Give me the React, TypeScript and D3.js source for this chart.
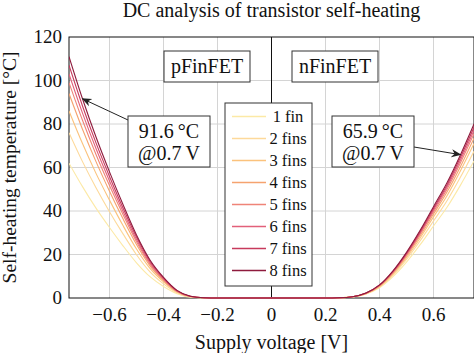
import { useRef, useEffect } from "react";
import * as d3 from "d3";

// supply voltage sweep [V]
const voltages = [
  -0.75, -0.7, -0.65, -0.6, -0.55, -0.5, -0.45, -0.4, -0.35, -0.3, -0.25,
  -0.2, -0.15, -0.1, -0.05, 0, 0.05, 0.1, 0.15, 0.2,
  0.25, 0.3, 0.35, 0.4, 0.45, 0.5, 0.55, 0.6, 0.65, 0.7, 0.75,
];

const finLabels = ["1 fin", "2 fins", "3 fins", "4 fins", "5 fins", "6 fins", "7 fins", "8 fins"];
const finColors = ["#fce9a6", "#fdd99a", "#fbc27c", "#f5a36f", "#ef8478", "#e2607a", "#c73a5c", "#8e1b3d"];

// self-heating temperature [°C] per fin count
const fin1 = [62, 51.2, 41.3, 32.4, 24, 16.2, 9.8, 5.3, 2, 0.4, 0.1, 0, 0, 0, 0, 0, 0, 0, 0, 0, 0.1, 0.5, 1.8, 4.7, 9.8, 16.5, 24.4, 33.1, 41.7, 51.9, 63];
const fin2 = [76, 62.7, 50.7, 39.7, 29.5, 19.9, 12, 6.5, 2.4, 0.5, 0.1, 0, 0, 0, 0, 0, 0, 0, 0, 0, 0.1, 0.5, 1.9, 5.1, 10.5, 17.7, 26.2, 35.4, 44.7, 55.6, 67.5];
const fin3 = [86, 71, 57.3, 45, 33.3, 22.5, 13.6, 7.4, 2.7, 0.6, 0.1, 0, 0, 0, 0, 0, 0, 0, 0, 0, 0.1, 0.5, 2, 5.3, 11.1, 18.6, 27.5, 37.3, 47, 58.5, 71];
const fin4 = [94, 77.6, 62.7, 49.1, 36.4, 24.6, 14.8, 8, 3, 0.7, 0.1, 0, 0, 0, 0, 0, 0, 0, 0, 0, 0.1, 0.6, 2.1, 5.5, 11.5, 19.3, 28.5, 38.6, 48.7, 60.5, 73.5];
const fin5 = [99, 81.7, 66, 51.7, 38.4, 25.9, 15.6, 8.5, 3.1, 0.7, 0.1, 0, 0, 0, 0, 0, 0, 0, 0, 0, 0.1, 0.6, 2.2, 5.7, 11.8, 19.8, 29.3, 39.6, 50, 62.2, 75.5];
const fin6 = [103, 85, 68.7, 53.8, 39.9, 26.9, 16.2, 8.8, 3.2, 0.7, 0.1, 0, 0, 0, 0, 0, 0, 0, 0, 0, 0.1, 0.6, 2.2, 5.8, 12, 20.2, 29.8, 40.4, 51, 63.4, 77];
const fin7 = [107, 88.3, 71.3, 55.9, 41.4, 28, 16.9, 9.2, 3.4, 0.8, 0.1, 0, 0, 0, 0, 0, 0, 0, 0, 0, 0.1, 0.6, 2.3, 5.9, 12.3, 20.6, 30.4, 41.2, 52, 64.7, 78.5];
const fin8 = [111, 91.6, 74, 58, 43, 29, 17.5, 9.5, 3.5, 0.8, 0.1, 0, 0, 0, 0, 0, 0, 0, 0, 0, 0.1, 0.6, 2.3, 6, 12.5, 21, 31, 42, 53, 65.9, 80];
const series = [fin1, fin2, fin3, fin4, fin5, fin6, fin7, fin8];

const xTicks = [-0.6, -0.4, -0.2, 0, 0.2, 0.4, 0.6];
const yTicks = [0, 20, 40, 60, 80, 100, 120];

// 8-fin peak markers
const pPeak = { v: -0.7, t: 91.6 };
const nPeak = { v: 0.7, t: 65.9 };

const width = 474;
const height = 353;
const plot = { left: 69, right: 474, top: 37, bottom: 298 };
const font = "Liberation Serif, DejaVu Serif, serif";

export default function App() {
  const ref = useRef<SVGSVGElement>(null);

  useEffect(() => {
    if (!ref.current) return;
    const svg = d3.select(ref.current);
    svg.selectAll("*").remove();

    const x = d3.scaleLinear().domain([-0.75, 0.75]).range([plot.left, plot.right]);
    const y = d3.scaleLinear().domain([0, 120]).range([plot.bottom, plot.top]);

    const defs = svg.append("defs");
    defs
      .append("clipPath")
      .attr("id", "plot-clip")
      .append("rect")
      .attr("x", plot.left)
      .attr("y", plot.top - 1)
      .attr("width", plot.right - plot.left)
      .attr("height", plot.bottom - plot.top + 2);

    defs
      .append("marker")
      .attr("id", "arrow")
      .attr("viewBox", "0 0 10 10")
      .attr("refX", 9)
      .attr("refY", 5)
      .attr("markerWidth", 10)
      .attr("markerHeight", 10)
      .attr("markerUnits", "userSpaceOnUse")
      .attr("orient", "auto")
      .append("path")
      .attr("d", "M0,1 L10,5 L0,9 L3,5 Z")
      .attr("fill", "#222");

    const root = svg.append("g").attr("font-family", font).attr("fill", "#111");

    // grid
    const grid = root.append("g").attr("stroke", "#d4d4d4").attr("stroke-width", 1);
    grid
      .selectAll("line.gx")
      .data(xTicks.filter((d) => d !== 0))
      .join("line")
      .attr("x1", (d) => x(d))
      .attr("x2", (d) => x(d))
      .attr("y1", plot.top)
      .attr("y2", plot.bottom);
    grid
      .selectAll("line.gy")
      .data(yTicks.filter((d) => d > 0 && d < 120))
      .join("line")
      .attr("x1", plot.left)
      .attr("x2", plot.right)
      .attr("y1", (d) => y(d))
      .attr("y2", (d) => y(d));

    // divider between pFinFET and nFinFET
    root
      .append("line")
      .attr("x1", x(0))
      .attr("x2", x(0))
      .attr("y1", plot.top)
      .attr("y2", plot.bottom)
      .attr("stroke", "#111")
      .attr("stroke-width", 1);

    // frame
    root
      .append("rect")
      .attr("x", plot.left)
      .attr("y", plot.top)
      .attr("width", plot.right - plot.left)
      .attr("height", plot.bottom - plot.top)
      .attr("fill", "none")
      .attr("stroke", "#111")
      .attr("stroke-width", 1);

    // curves
    const line = d3
      .line<number>()
      .x((_, i) => x(voltages[i]))
      .y((d) => y(d))
      .curve(d3.curveMonotoneX);
    root
      .append("g")
      .attr("clip-path", "url(#plot-clip)")
      .selectAll("path")
      .data(series)
      .join("path")
      .attr("fill", "none")
      .attr("stroke", (_, i) => finColors[i])
      .attr("stroke-width", 1.1)
      .attr("d", line);

    // tick labels
    root
      .append("g")
      .selectAll("text")
      .data(xTicks)
      .join("text")
      .attr("x", (d) => x(d))
      .attr("y", 321)
      .attr("text-anchor", "middle")
      .attr("font-size", 19)
      .text((d) => d3.format("")(d));
    root
      .append("g")
      .selectAll("text")
      .data(yTicks)
      .join("text")
      .attr("x", 62)
      .attr("y", (d) => y(d) + 6)
      .attr("text-anchor", "end")
      .attr("font-size", 19)
      .text((d) => d);

    // titles
    root
      .append("text")
      .attr("x", (plot.left + plot.right) / 2)
      .attr("y", 17)
      .attr("text-anchor", "middle")
      .attr("font-size", 20)
      .text("DC analysis of transistor self-heating");
    root
      .append("text")
      .attr("x", (plot.left + plot.right) / 2)
      .attr("y", 349)
      .attr("text-anchor", "middle")
      .attr("font-size", 20)
      .text("Supply voltage [V]");
    root
      .append("text")
      .attr("transform", `translate(16, ${(plot.top + plot.bottom) / 2}) rotate(-90)`)
      .attr("text-anchor", "middle")
      .attr("font-size", 19.5)
      .text("Self-heating temperature [°C]");

    // device labels
    const tag = (x0: number, w: number, label: string) => {
      const g = root.append("g");
      g.append("rect")
        .attr("x", x0)
        .attr("y", 51)
        .attr("width", w)
        .attr("height", 31)
        .attr("fill", "white")
        .attr("stroke", "#333");
      g.append("text")
        .attr("x", x0 + w / 2)
        .attr("y", 73)
        .attr("text-anchor", "middle")
        .attr("font-size", 20)
        .text(label);
    };
    tag(164, 86, "pFinFET");
    tag(292, 86, "nFinFET");

    // legend
    const legend = root.append("g");
    legend
      .append("rect")
      .attr("x", 225)
      .attr("y", 103)
      .attr("width", 87)
      .attr("height", 183)
      .attr("fill", "white")
      .attr("stroke", "#333");
    const item = legend
      .selectAll("g")
      .data(finLabels)
      .join("g")
      .attr("transform", (_, i) => `translate(0, ${116.5 + i * 22})`);
    item
      .append("line")
      .attr("x1", 232)
      .attr("x2", 266)
      .attr("stroke", (_, i) => finColors[i])
      .attr("stroke-width", 1.4);
    item
      .append("text")
      .attr("x", 288)
      .attr("y", 5.5)
      .attr("text-anchor", "middle")
      .attr("font-size", 16.5)
      .text((d) => d);

    // peak annotations
    const note = (bx: number, val: number, ax: number, ay: number, tip: { v: number; t: number }) => {
      const g = root.append("g");
      g.append("line")
        .attr("x1", ax)
        .attr("y1", ay)
        .attr("x2", x(tip.v))
        .attr("y2", y(tip.t))
        .attr("stroke", "#222")
        .attr("stroke-width", 1)
        .attr("marker-end", "url(#arrow)");
      g.append("rect")
        .attr("x", bx)
        .attr("y", 116)
        .attr("width", 82)
        .attr("height", 51)
        .attr("fill", "white")
        .attr("stroke", "#333");
      g.append("text")
        .attr("x", bx + 41)
        .attr("y", 138)
        .attr("text-anchor", "middle")
        .attr("font-size", 20)
        .text(`${val.toFixed(1)}\u2009°C`);
      g.append("text")
        .attr("x", bx + 41)
        .attr("y", 160)
        .attr("text-anchor", "middle")
        .attr("font-size", 20)
        .text(`@${Math.abs(tip.v).toFixed(1)}\u2009V`);
    };
    note(128, pPeak.t, 128, 120, pPeak);
    note(332, nPeak.t, 414, 147, nPeak);
  }, []);

  return (
    <svg
      ref={ref}
      width={width}
      height={height}
      style={{ position: "absolute", left: 0, top: 0, background: "white" }}
    />
  );
}
